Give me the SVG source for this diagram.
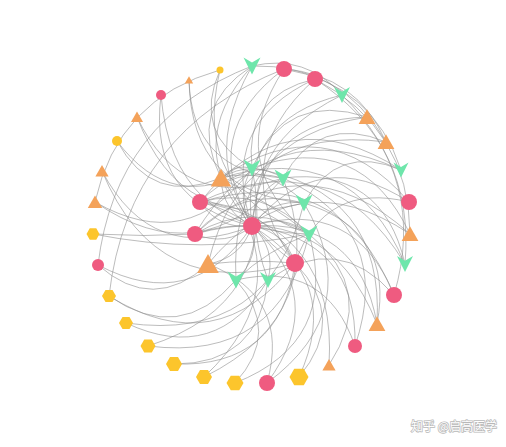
<svg xmlns="http://www.w3.org/2000/svg" width="506" height="447" viewBox="0 0 506 447">
<style>
.e{fill:none;stroke:#8c8c8c;stroke-opacity:0.65;stroke-width:0.9}
.p{fill:#ef5b80}
.t{fill:#f4a25a}
.g{fill:#6ee6ab}
.h{fill:#fcc52c}
.y{fill:#fcc52c}
.wm{font-family:"Noto Sans CJK SC","Liberation Sans",sans-serif;font-size:12px;fill:#ffffff;stroke:#b8b8b8;stroke-width:1.4;paint-order:stroke}
</style>
<defs>
<path id="tri" d="M0,-0.55 L0.6,0.5 L-0.6,0.5 Z"/>
<polygon id="hex" points="1,0 0.5,0.866 -0.5,0.866 -1,0 -0.5,-0.866 0.5,-0.866"/>
<path id="chev" d="M-1,-1 L0,-0.4 L1,-1 L0,1 Z"/>
</defs>
<rect width="506" height="447" fill="#ffffff"/>
<g id="edges">
<path class="e" d="M252 226 Q180 146 252 66"/>
<path class="e" d="M252 226 Q197.4 133.1 284 69"/>
<path class="e" d="M252 226 Q238 120 342 95"/>
<path class="e" d="M252 226 Q319.7 143.3 409 202"/>
<path class="e" d="M252 226 Q354 196.6 394 295"/>
<path class="e" d="M252 226 Q357.5 239.6 355 346"/>
<path class="e" d="M252 226 Q330.2 297.8 267 383"/>
<path class="e" d="M252 226 Q192.6 314.8 98 265"/>
<path class="e" d="M252 226 Q152.2 266 102 171"/>
<path class="e" d="M252 226 Q147.5 201.5 161 95"/>
<path class="e" d="M252 226 Q217.3 124.1 315 79"/>
<path class="e" d="M252 226 Q260.4 119.7 367 117"/>
<path class="e" d="M252 226 Q358.6 218.7 377 324"/>
<path class="e" d="M252 226 Q343.5 280.3 299 377"/>
<path class="e" d="M252 226 Q234.6 197 252 168"/>
<path class="e" d="M252 226 Q253.1 192.7 283 178"/>
<path class="e" d="M252 226 Q271.1 198.9 304 203"/>
<path class="e" d="M252 226 Q282.9 212.9 309 234"/>
<path class="e" d="M252 226 Q284.6 231.6 295 263"/>
<path class="e" d="M252 226 Q276.2 248.2 268 280"/>
<path class="e" d="M252 226 Q260.2 257.8 236 280"/>
<path class="e" d="M252 226 Q241.4 258.2 208 264"/>
<path class="e" d="M252 226 Q225.9 247.1 195 234"/>
<path class="e" d="M252 226 Q218.8 229.6 200 202"/>
<path class="e" d="M252 226 Q222.1 211.3 221 178"/>
<path class="e" d="M252 226 Q222.7 224.3 195 234"/>
<path class="e" d="M252 226 Q228.4 208.8 200 202"/>
<path class="e" d="M252 168 Q243.5 95.1 315 79"/>
<path class="e" d="M252 168 Q286.5 90.7 367 117"/>
<path class="e" d="M252 168 Q360.7 129.9 410 234"/>
<path class="e" d="M252 168 Q280.1 303.8 148 346"/>
<path class="e" d="M252 168 Q172.3 215.3 117 141"/>
<path class="e" d="M252 168 Q191.9 133.4 220 70"/>
<path class="e" d="M252 168 Q384.7 189.8 377 324"/>
<path class="e" d="M252 168 Q188.8 255.7 95 202"/>
<path class="e" d="M283 178 Q318.3 113.6 386 142"/>
<path class="e" d="M283 178 Q382.7 166.1 405 264"/>
<path class="e" d="M283 178 Q333.1 313.1 204 377"/>
<path class="e" d="M283 178 Q199.8 274.6 95 202"/>
<path class="e" d="M283 178 Q191.9 171.3 189 80"/>
<path class="e" d="M283 178 Q394.6 229.6 355 346"/>
<path class="e" d="M283 178 Q182.5 213.2 137 117"/>
<path class="e" d="M304 203 Q337.6 142.8 401 170"/>
<path class="e" d="M304 203 Q395 230.6 377 324"/>
<path class="e" d="M304 203 Q269 343.1 126 323"/>
<path class="e" d="M304 203 Q181.8 235.2 137 117"/>
<path class="e" d="M304 203 Q366.5 309.7 267 383"/>
<path class="e" d="M304 203 Q191.1 193.3 189 80"/>
<path class="e" d="M309 234 Q222.2 162.8 284 69"/>
<path class="e" d="M309 234 Q378 290.5 329 365"/>
<path class="e" d="M309 234 Q201 255.6 93 234"/>
<path class="e" d="M309 234 Q172.4 231.1 161 95"/>
<path class="e" d="M309 234 Q339.1 341.8 235 383"/>
<path class="e" d="M309 234 Q278.9 362.5 148 346"/>
<path class="e" d="M309 234 Q190.7 192.1 220 70"/>
<path class="e" d="M295 263 Q222.2 162 315 79"/>
<path class="e" d="M295 263 Q324.5 181.2 409 202"/>
<path class="e" d="M295 263 Q348.3 318.2 299 377"/>
<path class="e" d="M295 263 Q157.1 303.9 102 171"/>
<path class="e" d="M295 263 Q184.8 183.9 252 66"/>
<path class="e" d="M295 263 Q280 368 174 364"/>
<path class="e" d="M295 263 Q216.9 363.2 109 296"/>
<path class="e" d="M268 280 Q221.7 154.2 342 95"/>
<path class="e" d="M268 280 Q337.8 230.8 394 295"/>
<path class="e" d="M268 280 Q258.8 364.3 174 364"/>
<path class="e" d="M268 280 Q216.4 365.4 126 323"/>
<path class="e" d="M236 280 Q228.1 139.5 367 117"/>
<path class="e" d="M236 280 Q325.2 259.4 355 346"/>
<path class="e" d="M236 280 Q281.9 332 235 383"/>
<path class="e" d="M236 280 Q179.7 345.2 109 296"/>
<path class="e" d="M208 264 Q242.1 122.9 386 142"/>
<path class="e" d="M208 264 Q295.5 158.1 410 234"/>
<path class="e" d="M208 264 Q291.1 296.9 267 383"/>
<path class="e" d="M208 264 Q153.5 314 98 265"/>
<path class="e" d="M195 234 Q269.2 109.3 401 170"/>
<path class="e" d="M195 234 Q326.5 197.1 377 324"/>
<path class="e" d="M195 234 Q302.5 137.2 410 234"/>
<path class="e" d="M195 234 Q144 237 93 234"/>
<path class="e" d="M195 234 Q240.2 185.8 304 203"/>
<path class="e" d="M195 234 Q252 199.8 309 234"/>
<path class="e" d="M200 202 Q330.4 140.7 405 264"/>
<path class="e" d="M200 202 Q337.9 225.4 329 365"/>
<path class="e" d="M200 202 Q338.9 161.2 394 295"/>
<path class="e" d="M200 202 Q286.1 95.5 401 170"/>
<path class="e" d="M200 202 Q234.3 165.1 283 178"/>
<path class="e" d="M200 202 Q264.1 185.3 309 234"/>
<path class="e" d="M200 202 Q265.8 204 295 263"/>
<path class="e" d="M221 178 Q186.1 108 252 66"/>
<path class="e" d="M221 178 Q302.1 285.2 204 377"/>
<path class="e" d="M221 178 Q325.8 105.4 409 202"/>
<path class="e" d="M221 178 Q351.7 138.2 405 264"/>
<path class="e" d="M221 178 Q152.3 206.3 117 141"/>
<path class="e" d="M221 178 Q233.5 163.7 252 168"/>
<path class="e" d="M221 178 Q252 159.4 283 178"/>
<path class="e" d="M221 178 Q270 165.6 304 203"/>
<path class="e" d="M221 178 Q267.8 201.6 309 234"/>
<path class="e" d="M208 264 Q251.5 259.2 295 263"/>
<path class="e" d="M236 280 Q267.9 249.7 309 234"/>
<path class="e" d="M284 69 Q372.8 84.4 401 170"/>
<path class="e" d="M315 79 Q409 128 410 234"/>
<path class="e" d="M252 66 Q341.8 63.8 386 142"/>
<path class="e" d="M98 265 Q115.3 119.3 252 66"/>
<path class="e" d="M95 202 Q117.9 98.5 220 70"/>
<path class="e" d="M342 95 Q428 179.4 394 295"/>
<path class="e" d="M315 79 Q415.5 144.5 405 264"/>
<path class="e" d="M284 69 Q356.9 74.9 386 142"/>
<path class="e" d="M252 66 Q305.7 53.5 342 95"/>
<path class="e" d="M109 296 Q128.4 130 284 69"/>
</g>
<g id="n-o1"><use href="#chev" class="g" transform="translate(252,66) scale(8.5)"/></g>
<g id="n-o2"><circle class="p" cx="284" cy="69" r="8"/></g>
<g id="n-o3"><circle class="p" cx="315" cy="79" r="8"/></g>
<g id="n-o4"><use href="#chev" class="g" transform="translate(342,95) scale(8)"/></g>
<g id="n-o5"><use href="#tri" class="t" transform="translate(367,117) scale(14)"/></g>
<g id="n-o6"><use href="#tri" class="t" transform="translate(386,142) scale(14)"/></g>
<g id="n-o7"><use href="#chev" class="g" transform="translate(401,170) scale(7.5)"/></g>
<g id="n-o8"><circle class="p" cx="409" cy="202" r="8"/></g>
<g id="n-o9"><use href="#tri" class="t" transform="translate(410,234) scale(14)"/></g>
<g id="n-o10"><use href="#chev" class="g" transform="translate(405,264) scale(8)"/></g>
<g id="n-o11"><circle class="p" cx="394" cy="295" r="8"/></g>
<g id="n-o12"><use href="#tri" class="t" transform="translate(377,324) scale(14)"/></g>
<g id="n-o13"><circle class="p" cx="355" cy="346" r="7"/></g>
<g id="n-o14"><use href="#tri" class="t" transform="translate(329,365) scale(11)"/></g>
<g id="n-o15"><use href="#hex" class="h" transform="translate(299,377) scale(9.5)"/></g>
<g id="n-o16"><circle class="p" cx="267" cy="383" r="8"/></g>
<g id="n-o17"><use href="#hex" class="h" transform="translate(235,383) scale(8.5)"/></g>
<g id="n-o18"><use href="#hex" class="h" transform="translate(204,377) scale(8)"/></g>
<g id="n-o19"><use href="#hex" class="h" transform="translate(174,364) scale(8)"/></g>
<g id="n-o20"><use href="#hex" class="h" transform="translate(148,346) scale(7.5)"/></g>
<g id="n-o21"><use href="#hex" class="h" transform="translate(126,323) scale(7)"/></g>
<g id="n-o22"><use href="#hex" class="h" transform="translate(109,296) scale(7)"/></g>
<g id="n-o23"><circle class="p" cx="98" cy="265" r="6"/></g>
<g id="n-o24"><use href="#hex" class="h" transform="translate(93,234) scale(6.5)"/></g>
<g id="n-o25"><use href="#tri" class="t" transform="translate(95,202) scale(12)"/></g>
<g id="n-o26"><use href="#tri" class="t" transform="translate(102,171) scale(11)"/></g>
<g id="n-o27"><circle class="y" cx="117" cy="141" r="5"/></g>
<g id="n-o28"><use href="#tri" class="t" transform="translate(137,117) scale(10)"/></g>
<g id="n-o29"><circle class="p" cx="161" cy="95" r="5"/></g>
<g id="n-o30"><use href="#tri" class="t" transform="translate(189,80) scale(7)"/></g>
<g id="n-o31"><circle class="y" cx="220" cy="70" r="3.5"/></g>
<g id="n-c"><circle class="p" cx="252" cy="226" r="9"/></g>
<g id="n-i1"><use href="#chev" class="g" transform="translate(252,168) scale(8.5)"/></g>
<g id="n-i2"><use href="#chev" class="g" transform="translate(283,178) scale(8.5)"/></g>
<g id="n-i3"><use href="#chev" class="g" transform="translate(304,203) scale(8.5)"/></g>
<g id="n-i4"><use href="#chev" class="g" transform="translate(309,234) scale(8.5)"/></g>
<g id="n-i5"><circle class="p" cx="295" cy="263" r="9"/></g>
<g id="n-i6"><use href="#chev" class="g" transform="translate(268,280) scale(8)"/></g>
<g id="n-i7"><use href="#chev" class="g" transform="translate(236,280) scale(8.5)"/></g>
<g id="n-i8"><use href="#tri" class="t" transform="translate(208,264) scale(18)"/></g>
<g id="n-i9"><circle class="p" cx="195" cy="234" r="8"/></g>
<g id="n-i10"><circle class="p" cx="200" cy="202" r="8"/></g>
<g id="n-i11"><use href="#tri" class="t" transform="translate(221,178) scale(17)"/></g>
<text class="wm" x="411" y="431">知乎 @启高医学</text>
</svg>
